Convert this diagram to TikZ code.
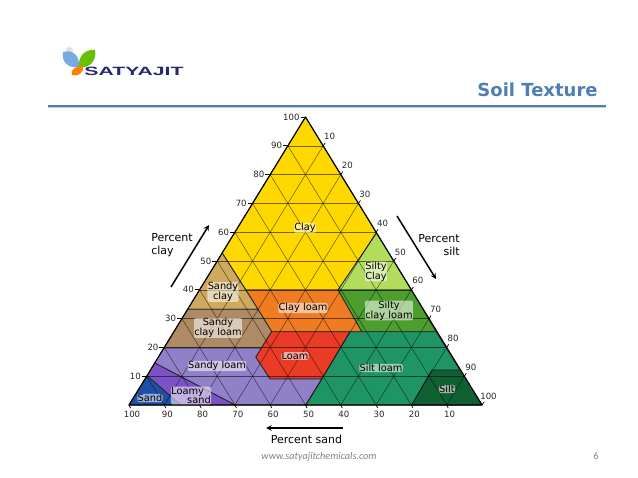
\documentclass[tikz,border=0pt]{standalone}
\usepackage{fontspec}
\setmainfont{DejaVu Sans}
\newfontfamily\footfont{Carlito}
\newfontfamily\logofont{Liberation Sans}
\usetikzlibrary{calc}
\definecolor{claycol}{HTML}{FFD800}
\definecolor{siltyclaycol}{HTML}{B2DC5C}
\definecolor{siltyloamcol}{HTML}{4C9F2C}
\definecolor{clayloamcol}{HTML}{F07C22}
\definecolor{sandyclaycol}{HTML}{CFA95E}
\definecolor{sandyloamclaycol}{HTML}{AE8B64}
\definecolor{loamcol}{HTML}{EA3B26}
\definecolor{sandyloamcol}{HTML}{8F80C8}
\definecolor{loamysandcol}{HTML}{7B52C6}
\definecolor{sandcol}{HTML}{1F50A8}
\definecolor{siltloamcol}{HTML}{1F9565}
\definecolor{siltcol}{HTML}{0F6032}
\definecolor{titlecol}{HTML}{4F7DB5}
\tikzset{
    region/.style={draw=black!85, line width=.8pt, line join=round},
    gridline/.style={black, opacity=.55, line width=.55pt},
    ticknum/.style={inner sep=0pt, font=\fontsize{8.6}{9}\selectfont, text=black!85},
    soil/.style={fill=white, fill opacity=.55, text opacity=1, inner sep=.3pt, rounded corners=2pt,
        align=center, font=\fontsize{9.8}{9.8}\selectfont, text=black},
    axisname/.style={inner sep=0pt, font=\fontsize{11}{13}\selectfont, text=black},
    axisarrow/.style={->, line width=1.5pt},
}
\begin{document}
\begin{tikzpicture}[>=stealth, x=1pt, y=-1pt]
\useasboundingbox (0,0) rectangle (638,478);
% header
\fill[titlecol!70!black!30] (48,107) rectangle (606,108);
\coordinate (ruleL) at (48,106);
\coordinate (ruleR) at (606,106);
\draw[line width=1.4pt, color=titlecol] (ruleL)--(ruleR);
\node (title) at (537.5,90) [inner sep=0pt, text=titlecol, font=\fontsize{18}{20}\bfseries]{Soil Texture};
% logo
\fill[black!12] (66,50) .. controls (66,46) and (72,46) .. (73,50) -- (72,56) -- cycle;
\fill[cyan!60!blue!55] (63,52) .. controls (73,49) and (80,56) .. (79,67) .. controls (69,69) and (61,62) .. (63,52) -- cycle;
\fill[green!45!yellow!75!black] (95,50) .. controls (85,49) and (78,56) .. (79,67) .. controls (90,69) and (97,60) .. (95,50) -- cycle;
\fill[orange] (83,66) .. controls (75,66) and (70,70) .. (72,75) .. controls (78,77) and (84,73) .. (83,66) -- cycle;
\node (logo) at (134,71.5) [inner sep=0pt, xscale=1.77, text=blue!35!black!85, font=\logofont\fontsize{12}{12}\bfseries]{SATYAJIT};
% corners of the triangle
\coordinate (L) at (129,405);
\coordinate (R) at (482,405);
\coordinate (T) at (305.5,117);
% soil classes
\coordinate (a) at (376.6,233);
\coordinate (b) at (338,290);
\coordinate (c) at (411.5,290);
\coordinate (d) at (246,290);
\coordinate (e) at (222.2,253);
\coordinate (f) at (258,309.3);
\coordinate (g) at (187.6,309.3);
\coordinate (h) at (271.7,331.7);
\coordinate (i) at (350,331.7);
\coordinate (j) at (361.7,331.7);
\coordinate (k) at (436,331.7);
\coordinate (l) at (164,348);
\coordinate (m) at (261.4,348);
\coordinate (n) at (255.7,357);
\coordinate (o) at (270,379);
\coordinate (p) at (322,379);
\coordinate (q) at (306,405);
\coordinate (r) at (235,405);
\coordinate (s) at (154.7,363);
\coordinate (t) at (180.7,405);
\coordinate (u) at (147.3,376);
\coordinate (v) at (411.7,405);
\coordinate (w) at (431.7,370);
\coordinate (z) at (460.5,370);
\draw[region, fill=claycol] (T)--(a)--(b)--(d)--(e)--cycle;
\draw[region, fill=siltyclaycol] (a)--(c)--(b)--cycle;
\draw[region, fill=siltyloamcol] (b)--(c)--(k)--(j)--cycle;
\draw[region, fill=clayloamcol] (d)--(b)--(j)--(h)--cycle;
\draw[region, fill=sandyclaycol] (e)--(f)--(g)--cycle;
\draw[region, fill=sandyloamclaycol] (g)--(f)--(h)--(m)--(l)--cycle;
\draw[region, fill=loamcol] (h)--(i)--(p)--(o)--(n)--cycle;
\draw[region, fill=sandyloamcol] (l)--(m)--(n)--(o)--(p)--(q)--(r)--(s)--cycle;
\draw[region, fill=loamysandcol] (s)--(r)--(t)--(u)--cycle;
\draw[region, fill=sandcol] (L)--(t)--(u)--cycle;
\draw[region, fill=siltloamcol] (i)--(k)--(R)--(q)--(p)--cycle;
\draw[region, fill=siltcol] (v)--(w)--(z)--(R)--cycle;
% grid and ticks
\foreach \c in {10,20,...,90}
{
    \draw[gridline] ($(L)!\c/100!(T)$)--($(R)!\c/100!(T)$);
    \draw[gridline] ($(L)!\c/100!(R)$)--($(L)!\c/100!(T)$);
    \draw[gridline] ($(L)!\c/100!(R)$)--($(T)!\c/100!(R)$);
}
\foreach \c in {10,20,...,100}
{
    \coordinate (lt\c) at ($(L)!\c/100!(T)$);
    \coordinate (rt\c) at ($(T)!\c/100!(R)$);
    \coordinate (bt\c) at ($(R)!\c/100!(L)$);
    \draw[line width=.7pt] (lt\c)--++(-5,0) node[ticknum, anchor=east, xshift=-.5pt](ln\c){\c};
    \draw[line width=.7pt] (rt\c)--++(2,-3);
    \node[ticknum] (rn\c) at ($(rt\c)+(6.5,-9)$){\c};
    \draw[line width=.7pt] (bt\c)--++(1.5,3);
    \node[ticknum] (bn\c) at ($(bt\c)+(3,9.5)$){\c};
}
\draw[line width=1.1pt, line join=round] (L)--(R)--(T)--cycle;
% names of the classes
\node[soil] (clay) at (305,228){Clay};
\node[soil] (siltyclay) at (376,271.5){Silty\\Clay};
\node[soil] (siltyclayloam) at (389,310.5){Silty\\clay loam};
\node[soil] (clayloam) at (303,308){Clay loam};
\node[soil] (sandyclay) at (223,292){Sandy\\clay};
\node[soil] (sandyclayloam) at (218,328){Sandy\\clay loam};
\node[soil] (sandyloam) at (217,366){Sandy loam};
\node[soil, align=left] (loamysand) at (191,395.5){Loamy\\\hspace*{16pt}sand};
\node[soil] (sand) at (150,398){Sand};
\node[soil] (loam) at (295,356){Loam};
\node[soil] (siltloam) at (381,368){Silt loam};
\node[soil] (silt) at (447,389){Silt};
% the three axes
\coordinate (clayA) at (171,287);
\coordinate (clayB) at (209,225);
\coordinate (siltA) at (397,216);
\coordinate (siltB) at (436,279);
\coordinate (sandA) at (343,428);
\coordinate (sandB) at (266,428);
\draw[axisarrow] (clayA)--(clayB);
\draw[axisarrow] (siltA)--(siltB);
\draw[axisarrow] (sandA)--(sandB);
\node[axisname, align=left] (clayname) at (172,245){Percent\\clay};
\node[axisname, align=right] (siltname) at (439,245){Percent\\silt};
\node[axisname] (sandname) at (306.5,439){Percent sand};
% footer
\node (site) at (319,456.5)[inner sep=0pt, text=black!50, font=\footfont\fontsize{10.2}{12}\itshape]{www.satyajitchemicals.com};
\node (page) at (596,456.5)[inner sep=0pt, text=black!50, font=\footfont\fontsize{10.2}{12}\selectfont]{6};
\end{tikzpicture}
\end{document}
